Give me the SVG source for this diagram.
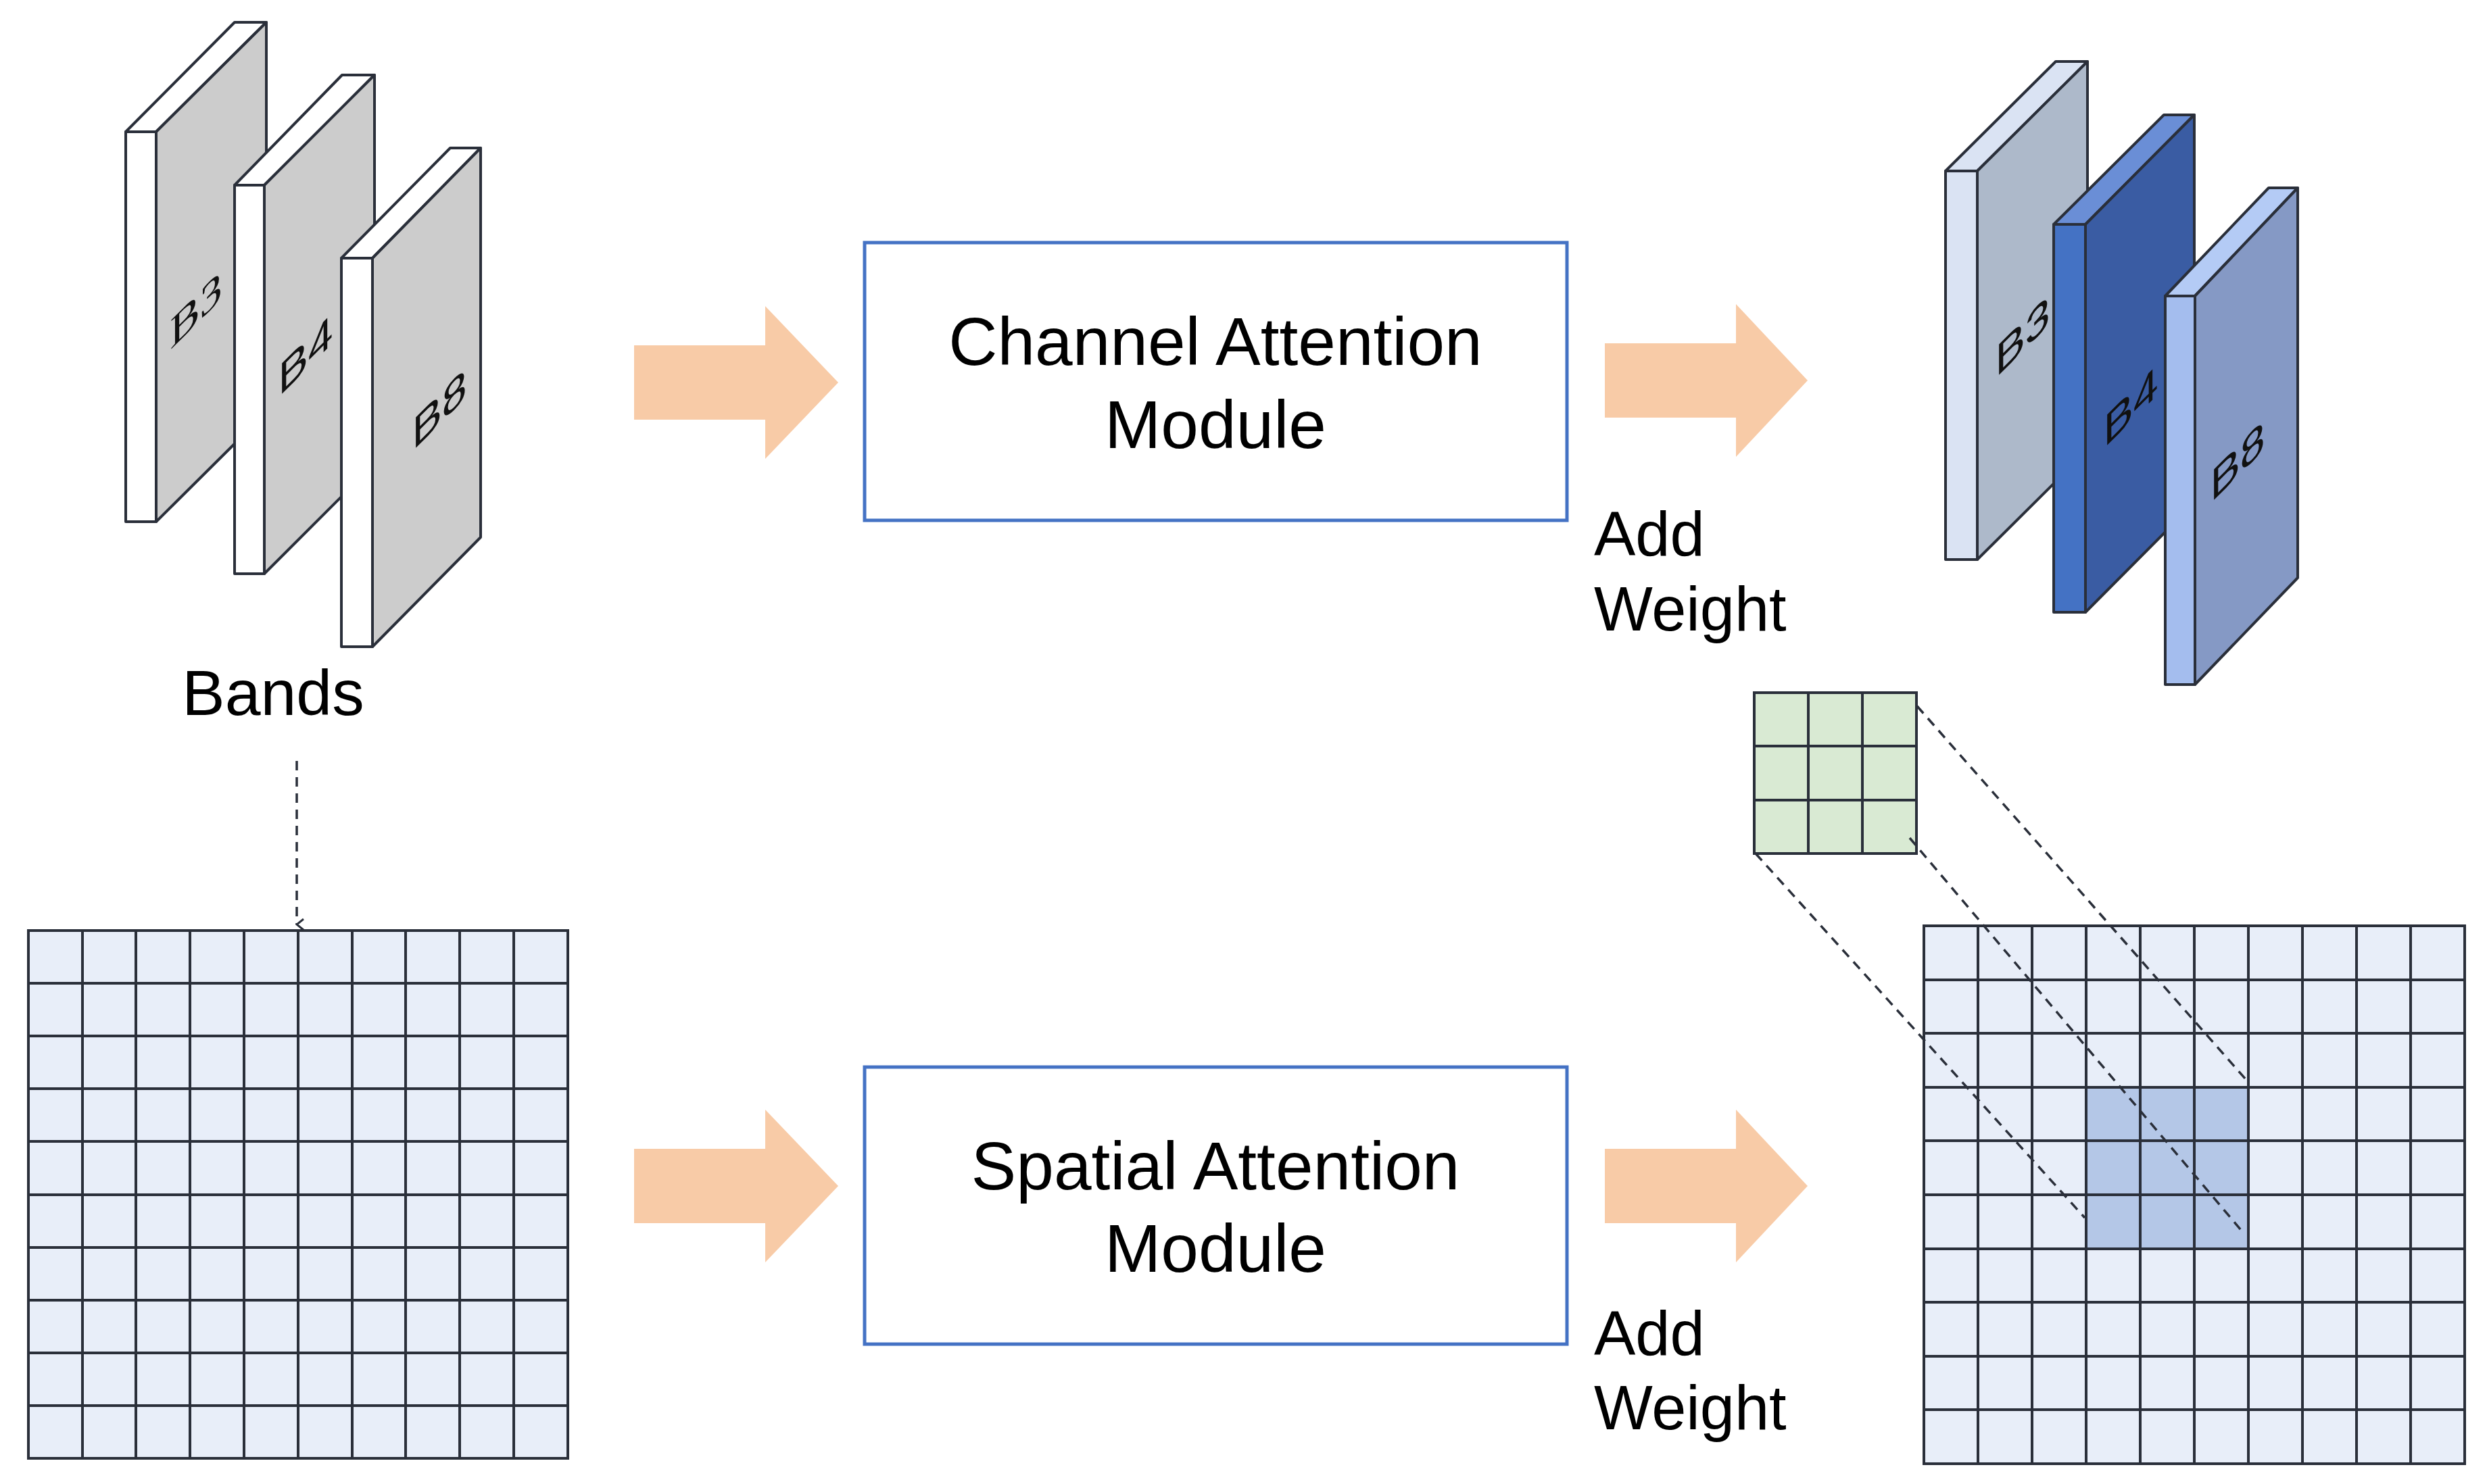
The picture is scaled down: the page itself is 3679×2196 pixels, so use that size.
<svg xmlns="http://www.w3.org/2000/svg" width="3679" height="2196" viewBox="0 0 3679 2196">
<defs>
<style>
.ol{stroke:#2a2f3a;stroke-width:4;stroke-linejoin:round}
.t{font-family:"Liberation Sans",Arial,sans-serif;fill:#000}
.bl{font-family:"Liberation Sans",Arial,sans-serif;font-size:66px;fill:#111}
.box{fill:#fff;stroke:#4472C4;stroke-width:5}
.arr{fill:#F8CBA7}
.dash{stroke:#2a2f3a;stroke-width:3.5;stroke-dasharray:14 10;fill:none}
.grid{stroke:#2a2f3a;stroke-width:4;fill:none}
</style>
<marker id="open" viewBox="0 0 20 20" refX="10" refY="18" markerWidth="20" markerHeight="20" markerUnits="userSpaceOnUse" orient="auto-start-reverse">
<path d="M2,8 L10,18 L18,8" fill="none" stroke="#2a2f3a" stroke-width="3"/>
</marker>
</defs>
<rect width="3679" height="2196" fill="#fff"/>

<g id="bands-in">
<g id="in-b3">
<polygon class="ol" points="186,195 347,33 394,33 231,195" fill="#fff"/>
<polygon class="ol" points="231,195 394,33 394,610 231,772" fill="#CCCCCC"/>
<rect class="ol" x="186" y="195" width="45" height="577" fill="#fff"/>
<text class="bl" style="font-family:'Liberation Serif',serif" transform="translate(290,480) skewY(-45)" text-anchor="middle">B3</text>
</g>
<g id="in-b4">
<polygon class="ol" points="347,274 506,111 554,111 391,274" fill="#fff"/>
<polygon class="ol" points="391,274 554,111 554,686 391,849" fill="#CCCCCC"/>
<rect class="ol" x="347" y="274" width="44" height="575" fill="#fff"/>
<text class="bl" transform="translate(452,548) skewY(-45)" text-anchor="middle">B4</text>
</g>
<g id="in-b8">
<polygon class="ol" points="505,382 666,219 711,219 551,382" fill="#fff"/>
<polygon class="ol" points="551,382 711,219 711,795 551,957" fill="#CCCCCC"/>
<rect class="ol" x="505" y="382" width="46" height="575" fill="#fff"/>
<text class="bl" transform="translate(650,628) skewY(-45)" text-anchor="middle">B8</text>
</g>
<text class="t" x="404" y="1058" font-size="95" text-anchor="middle">Bands</text>
</g>

<g id="channel-module">
<rect class="box" x="1279" y="359" width="1039" height="411"/>
<text class="t" x="1798" y="540" font-size="100" text-anchor="middle">Channel Attention</text>
<text class="t" x="1798" y="663" font-size="100" text-anchor="middle">Module</text>
</g>

<g id="spatial-module">
<rect class="box" x="1279" y="1579" width="1039" height="410"/>
<text class="t" x="1798" y="1760" font-size="100" text-anchor="middle">Spatial Attention</text>
<text class="t" x="1798" y="1882" font-size="100" text-anchor="middle">Module</text>
</g>

<g id="bands-out">
<g id="out-b3">
<polygon class="ol" points="2878,253 3041,91 3088,91 2925,253" fill="#DAE3F3"/>
<polygon class="ol" points="2925,253 3088,91 3088,666 2925,828" fill="#ADB9CA"/>
<rect class="ol" x="2878" y="253" width="47" height="575" fill="#DAE3F3"/>
<text class="bl" transform="translate(2992,520) skewY(-45)" text-anchor="middle">B3</text>
</g>
<g id="out-b4">
<polygon class="ol" points="3038,332 3201,170 3246,170 3085,332" fill="#6A8ED6"/>
<polygon class="ol" points="3085,332 3246,170 3246,744 3085,906" fill="#3A5CA3"/>
<rect class="ol" x="3038" y="332" width="47" height="574" fill="#4472C4"/>
<text class="bl" transform="translate(3152,624) skewY(-45)" text-anchor="middle">B4</text>
</g>
<g id="out-b8">
<polygon class="ol" points="3203,438 3356,278 3399,278 3247,438" fill="#B4CBF5"/>
<polygon class="ol" points="3247,438 3399,278 3399,855 3247,1013" fill="#8599C5"/>
<rect class="ol" x="3203" y="438" width="44" height="575" fill="#A4BDEE"/>
<text class="bl" transform="translate(3310,705) skewY(-45)" text-anchor="middle">B8</text>
</g>
</g>

<g id="input-grid">
<rect x="42" y="1377" width="798" height="781" fill="#E8EEF9"/>
<path class="grid" d="M42,1377H840V2158H42Z M122,1377V2158 M201,1377V2158 M281,1377V2158 M361,1377V2158 M441,1377V2158 M521,1377V2158 M600,1377V2158 M680,1377V2158 M760,1377V2158 M42,1455H840 M42,1533H840 M42,1611H840 M42,1689H840 M42,1768H840 M42,1846H840 M42,1924H840 M42,2002H840 M42,2080H840"/>
</g>

<g id="kernel">
<rect x="2595" y="1025" width="240" height="238" fill="#D9EAD3"/>
<path class="grid" d="M2595,1025H2835V1263H2595Z M2675,1025V1263 M2755,1025V1263 M2595,1104H2835 M2595,1184H2835"/>
</g>

<g id="output-grid">
<rect x="2846" y="1370" width="800" height="796" fill="#E8EEF9"/>
<rect x="3086" y="1609" width="240" height="239" fill="#B4C7E7"/>
<path class="grid" d="M2846,1370H3646V2166H2846Z M2926,1370V2166 M3006,1370V2166 M3086,1370V2166 M3166,1370V2166 M3246,1370V2166 M3326,1370V2166 M3406,1370V2166 M3486,1370V2166 M3566,1370V2166 M2846,1450H3646 M2846,1529H3646 M2846,1609H3646 M2846,1688H3646 M2846,1768H3646 M2846,1848H3646 M2846,1927H3646 M2846,2007H3646 M2846,2086H3646"/>
</g>

<g id="connectors">
<polygon class="arr" points="938,511 1132,511 1132,453 1240,566 1132,679 1132,621 938,621"/>
<polygon class="arr" points="2374,508 2568,508 2568,450 2674,563 2568,676 2568,618 2374,618"/>
<polygon class="arr" points="938,1700 1132,1700 1132,1642 1240,1755 1132,1868 1132,1810 938,1810"/>
<polygon class="arr" points="2374,1700 2568,1700 2568,1642 2674,1755 2568,1868 2568,1810 2374,1810"/>
<line class="dash" x1="439" y1="1126" x2="439" y2="1368" marker-end="url(#open)"/>
<line class="dash" x1="2836" y1="1045" x2="3322" y2="1597"/>
<line class="dash" x1="2597" y1="1263" x2="3084" y2="1802"/>
<line class="dash" x1="2825" y1="1240" x2="3320" y2="1826"/>
</g>

<g id="labels">
<text class="t" x="2358" y="822" font-size="92">Add</text>
<text class="t" x="2358" y="933" font-size="92">Weight</text>
<text class="t" x="2358" y="2005" font-size="92">Add</text>
<text class="t" x="2358" y="2115" font-size="92">Weight</text>
</g>
</svg>
